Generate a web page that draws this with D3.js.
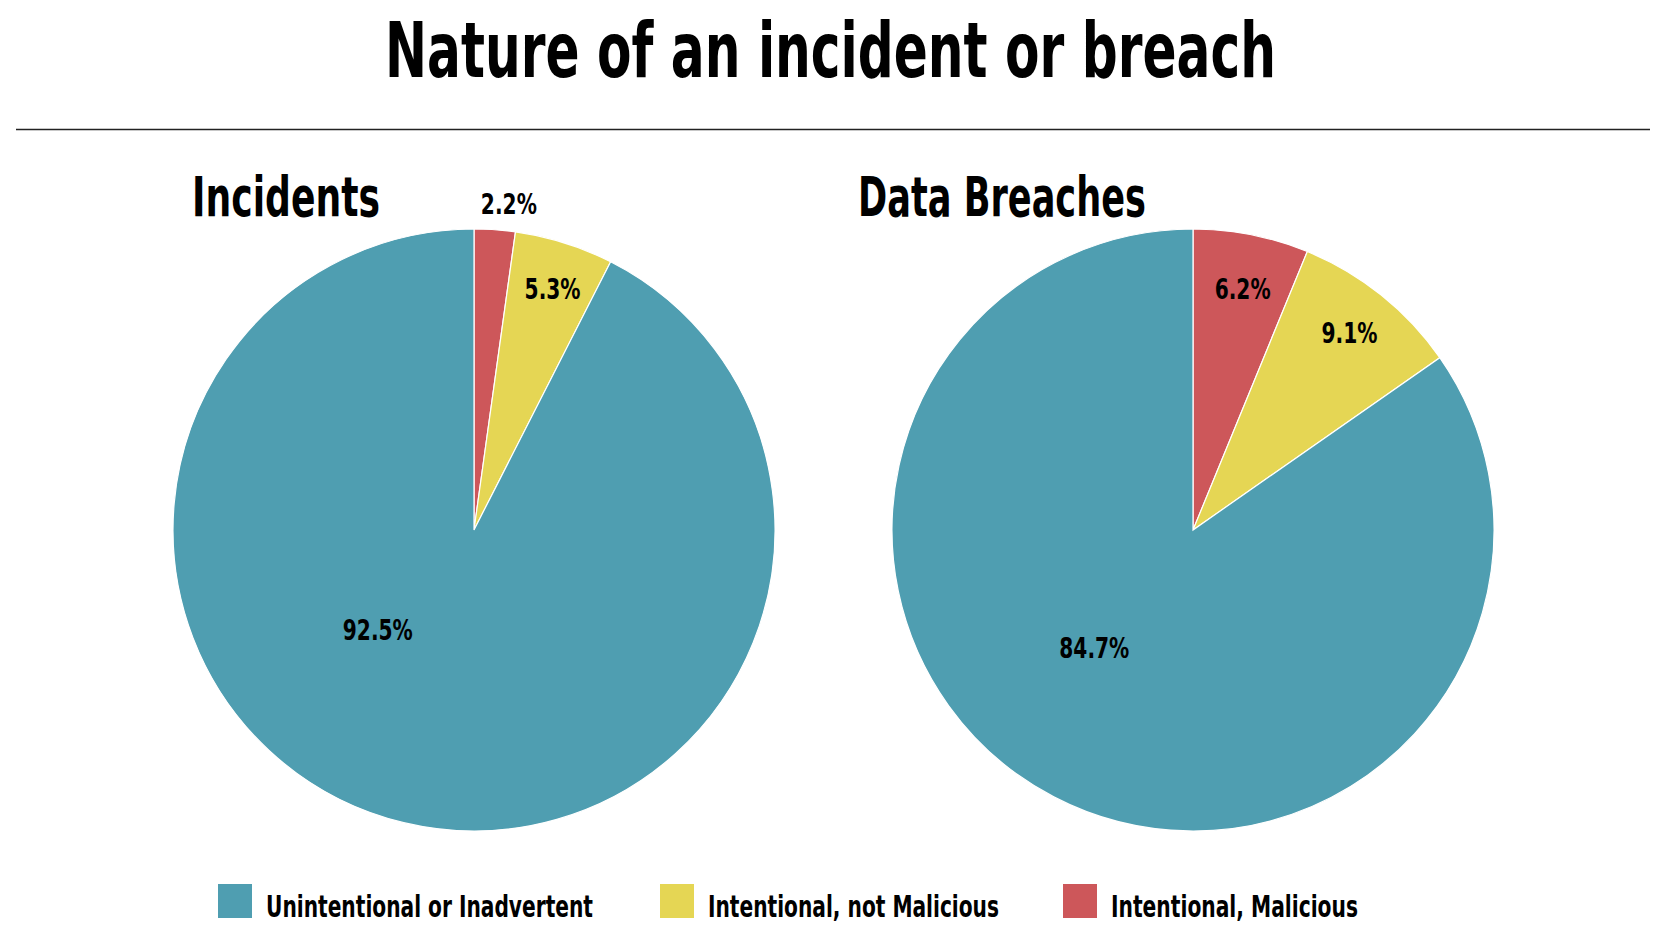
<!DOCTYPE html>
<html>
<head>
<meta charset="utf-8">
<script src="https://cdn.jsdelivr.net/npm/d3@7"></script>
<style>
  html, body { margin: 0; padding: 0; background: #fff; }
  svg text { font-family: "Liberation Sans Narrow", "DejaVu Sans Condensed", "Liberation Sans", sans-serif; font-weight: bold; fill: #000; }
</style>
</head>
<body>
<svg id="chart" width="1667" height="931"></svg>
<script>
// ---- data ----
const categories = ["Intentional, Malicious", "Intentional, not Malicious", "Unintentional or Inadvertent"];
const incidentsValues = [2.2, 5.3, 92.5];
const breachesValues = [6.2, 9.1, 84.7];
const chartTitles = ["Incidents", "Data Breaches"];
const legendOrder = ["Unintentional or Inadvertent", "Intentional, not Malicious", "Intentional, Malicious"];
const mainTitle = "Nature of an incident or breach";

// ---- style / layout ----
const colors = {
  "Unintentional or Inadvertent": "#4F9EB1",
  "Intentional, not Malicious": "#E5D654",
  "Intentional, Malicious": "#CD575A"
};
// label placement: angle (deg, clockwise from 12 o'clock) and radius fraction
const labelLayouts = [
  [{a: 6.1, r: 1.09}, {a: 18.0, r: 0.845}, {a: 224, r: 0.46}],
  [{a: 11.6, r: 0.82}, {a: 38.4, r: 0.837}, {a: 220, r: 0.51}]
];
const pies = [
  {cx: 474, cy: 530, r: 301, values: incidentsValues, title: chartTitles[0], tx: 192, tw: 188},
  {cx: 1193, cy: 530, r: 301, values: breachesValues, title: chartTitles[1], tx: 858, tw: 288}
];

const svg = d3.select("#chart");

// Main title
svg.append("text")
  .attr("x", 385).attr("y", 77)
  .attr("font-size", 77)
  .attr("textLength", 891).attr("lengthAdjust", "spacingAndGlyphs")
  .text(mainTitle);

// Divider line
svg.append("line")
  .attr("x1", 16).attr("x2", 1650)
  .attr("y1", 129.5).attr("y2", 129.5)
  .attr("stroke", "#222").attr("stroke-width", 1.5);

const pie = d3.pie().sort(null).value(d => d.value);
const fmt = d3.format(".1f");

pies.forEach((p, i) => {
  const data = categories.map((c, j) => ({cat: c, value: p.values[j]}));
  const arcs = pie(data);
  const arc = d3.arc().innerRadius(0).outerRadius(p.r);
  const g = svg.append("g").attr("transform", `translate(${p.cx},${p.cy})`);

  g.selectAll("path").data(arcs).join("path")
    .attr("d", arc)
    .attr("fill", d => colors[d.data.cat])
    .attr("stroke", "#fff")
    .attr("stroke-width", 1.2);

  g.selectAll("text.lbl").data(arcs).join("text")
    .attr("class", "lbl")
    .attr("text-anchor", "middle")
    .attr("font-size", 29)
    .attr("x", (d, j) => Math.sin(labelLayouts[i][j].a * Math.PI / 180) * labelLayouts[i][j].r * p.r)
    .attr("y", (d, j) => -Math.cos(labelLayouts[i][j].a * Math.PI / 180) * labelLayouts[i][j].r * p.r + 10.5)
    .attr("textLength", 56).attr("lengthAdjust", "spacingAndGlyphs")
    .text(d => fmt(d.data.value) + "%")
    .each(function(d) { if (d.data.value >= 10) d3.select(this).attr("textLength", 70); });

  svg.append("text")
    .attr("x", p.tx).attr("y", 216)
    .attr("font-size", 55)
    .attr("textLength", p.tw).attr("lengthAdjust", "spacingAndGlyphs")
    .text(p.title);
});

// Legend
const legendX = [218, 660, 1063];
const legendW = [327, 291, 247];
const lg = svg.append("g");
legendOrder.forEach((c, i) => {
  lg.append("rect")
    .attr("x", legendX[i]).attr("y", 884)
    .attr("width", 34).attr("height", 34)
    .attr("fill", colors[c]);
  lg.append("text")
    .attr("x", legendX[i] + 48).attr("y", 917)
    .attr("font-size", 31)
    .attr("textLength", legendW[i]).attr("lengthAdjust", "spacingAndGlyphs")
    .text(c);
});
</script>
</body>
</html>
